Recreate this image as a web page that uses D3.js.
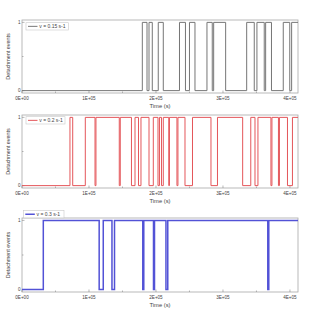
<!DOCTYPE html>
<html>
<head>
<meta charset="utf-8">
<script src="https://cdn.jsdelivr.net/npm/d3@7"></script>
<style>
  body { margin: 0; background: #fff; }
  svg { display: block; font-family: "Liberation Sans", Arial, sans-serif; }
</style>
</head>
<body>
<svg id="chart" width="320" height="320"></svg>
<script>
// switch times (s); the state starts at 0 and flips at each time
const switches015 = [1.796e5, 1.866e5, 1.896e5, 1.945e5, 2.034e5, 2.109e5, 2.351e5, 2.440e5,
    2.500e5, 2.582e5, 2.761e5, 2.840e5, 2.861e5, 3.040e5, 3.354e5, 3.467e5, 3.507e5, 3.616e5,
    3.637e5, 3.724e5, 3.900e5, 3.997e5, 4.025e5];
const switches02 = [0.716e5, 0.757e5, 0.945e5, 1.090e5, 1.104e5, 1.452e5, 1.467e5, 1.634e5,
    1.687e5, 1.739e5, 1.776e5, 1.896e5, 1.960e5, 2.030e5, 2.052e5, 2.082e5, 2.109e5, 2.191e5,
    2.201e5, 2.313e5, 2.328e5, 2.433e5, 2.545e5, 2.821e5, 2.918e5, 3.294e5, 3.415e5, 3.478e5,
    3.522e5, 3.716e5, 3.731e5, 3.828e5, 3.843e5, 3.963e5, 4.037e5];
const switches03 = [0.318e5, 1.152e5, 1.213e5, 1.343e5, 1.381e5, 1.803e5, 1.818e5, 1.963e5,
    1.978e5, 2.149e5, 2.176e5, 3.669e5, 3.684e5];

const seriesLabels = ["v = 0.15 s-1", "v = 0.2 s-1", "v = 0.3 s-1"];
const seriesColors = ["#767676", "#e4565a", "#5252d6"];
const seriesWidths = [1, 1, 1.5];
const xTicks = [0, 1e5, 2e5, 3e5, 4e5];
const xTickLabels = ["0E+00", "1E+05", "2E+05", "3E+05", "4E+05"];
const xMinorTicks = [0.5e5, 1.5e5, 2.5e5, 3.5e5];
const yTicks = [0, 1];
const xMax = 4.12e5;

const panels = [
    { switches: switches015, top: 20, bottom: 93, legend: { x: 26, y: 22.7 } },
    { switches: switches02, top: 115, bottom: 188, legend: { x: 26, y: 116.7 } },
    { switches: switches03, top: 218, bottom: 292, legend: { x: 23.3, y: 210.6 } },
];

const svg = d3.select("#chart");
const left = 22, right = 298;
const x = d3.scaleLinear().domain([0, xMax]).range([left, right]);

const toSteps = (switches) => {
    const pts = [[0, 0]];
    switches.forEach((t, i) => pts.push([t, (i + 1) % 2]));
    pts.push([xMax, switches.length % 2]);
    return pts;
};

panels.forEach((p, i) => {
    const g = svg.append("g");
    const y = d3.scaleLinear().domain([-0.035, 1.035]).range([p.bottom, p.top]);

    g.append("rect")
        .attr("x", left).attr("y", p.top)
        .attr("width", right - left).attr("height", p.bottom - p.top)
        .attr("fill", "none").attr("stroke", "#a9a9a9").attr("stroke-width", 0.8);

    // x ticks (inward)
    g.selectAll(".xt").data(xTicks).enter().append("line")
        .attr("x1", d => x(d)).attr("x2", d => x(d))
        .attr("y1", p.bottom).attr("y2", p.bottom - 2.5)
        .attr("stroke", "#888").attr("stroke-width", 0.6);
    g.selectAll(".xm").data(xMinorTicks).enter().append("line")
        .attr("x1", d => x(d)).attr("x2", d => x(d))
        .attr("y1", p.bottom).attr("y2", p.bottom - 1.5)
        .attr("stroke", "#888").attr("stroke-width", 0.6);
    g.selectAll(".xl").data(xTicks).enter().append("text")
        .attr("x", d => x(d)).attr("y", p.bottom + 7)
        .attr("text-anchor", "middle").attr("font-size", 4.6).attr("fill", "#444")
        .text((d, k) => xTickLabels[k]);

    // y ticks
    g.selectAll(".yt").data([0, 0.5, 1]).enter().append("line")
        .attr("x1", left).attr("x2", d => left + (d === 0.5 ? 1.5 : 2.5))
        .attr("y1", d => y(d)).attr("y2", d => y(d))
        .attr("stroke", "#888").attr("stroke-width", 0.6);
    g.selectAll(".yl").data(yTicks).enter().append("text")
        .attr("x", left - 1.5).attr("y", d => y(d) + 1.6)
        .attr("text-anchor", "end").attr("font-size", 4.6).attr("fill", "#444")
        .text(d => d);

    g.append("text")
        .attr("transform", `translate(10,${(p.top + p.bottom) / 2}) rotate(-90)`)
        .attr("text-anchor", "middle").attr("font-size", 5.4).attr("fill", "#444")
        .text("Detachment events");
    g.append("text")
        .attr("x", (left + right) / 2).attr("y", p.bottom + 14.5)
        .attr("text-anchor", "middle").attr("font-size", 5.8).attr("fill", "#444")
        .text("Time (s)");

    const line = d3.line().x(d => x(d[0])).y(d => y(d[1])).curve(d3.curveStepAfter);
    g.append("path")
        .datum(toSteps(p.switches))
        .attr("d", line)
        .attr("fill", "none")
        .attr("stroke", seriesColors[i])
        .attr("stroke-width", seriesWidths[i]);

    // legend
    const L = p.legend;
    const lw = i === 0 ? 42.3 : (i === 1 ? 39 : 40.7);
    const lg = g.append("g").attr("transform", `translate(${L.x},${L.y})`);
    lg.append("rect").attr("width", lw).attr("height", 7.3)
        .attr("fill", "#fff").attr("stroke", "#c8c8c8").attr("stroke-width", 0.6);
    lg.append("line").attr("x1", 2).attr("x2", 11.5).attr("y1", 3.65).attr("y2", 3.65)
        .attr("stroke", seriesColors[i]).attr("stroke-width", seriesWidths[i]);
    lg.append("text").attr("x", 13.3).attr("y", 5.4)
        .attr("font-size", 5).attr("fill", "#444")
        .text(seriesLabels[i]);
});
</script>
</body>
</html>
